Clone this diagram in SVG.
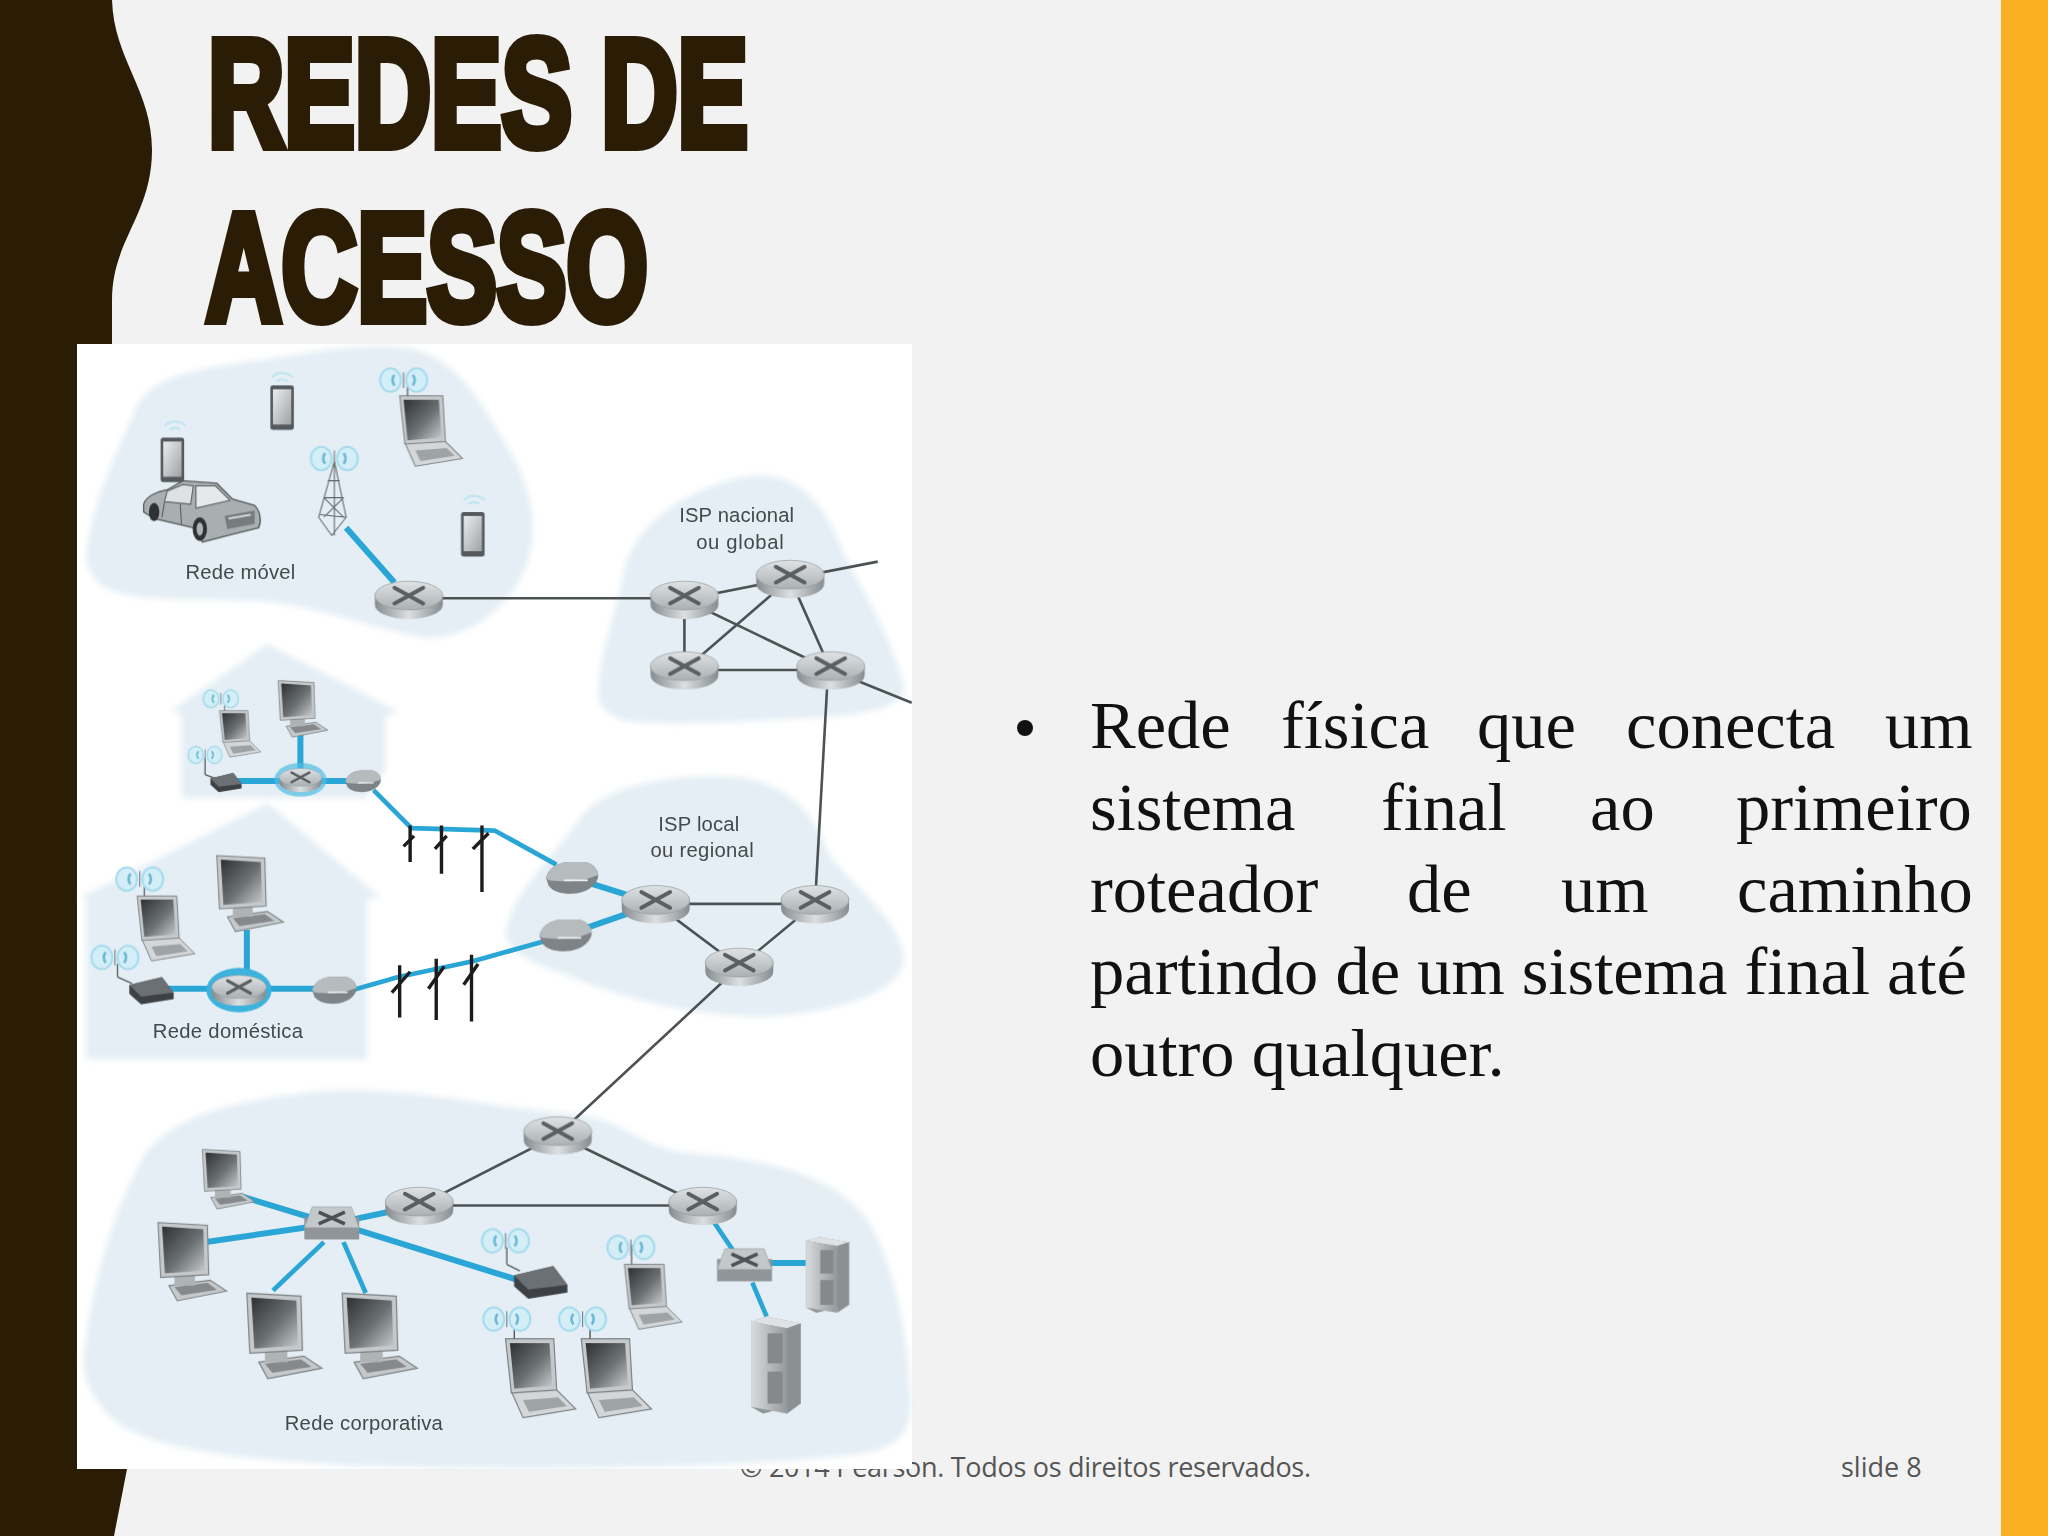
<svg xmlns="http://www.w3.org/2000/svg" xmlns:xlink="http://www.w3.org/1999/xlink" width="2048" height="1536" viewBox="0 0 2048 1536">
<style>
.title{font-family:"Liberation Sans",Arial,sans-serif;font-weight:700;font-size:153px;fill:#2a1c05;stroke:#2a1c05;stroke-width:10px;stroke-linejoin:miter}
.body{font-family:"Liberation Serif","Times New Roman",serif;font-size:68.5px;fill:#111}
.foot{font-family:"Open Sans","Noto Sans",sans-serif;font-size:27px;fill:#555}
.lab{font-family:"Liberation Sans",Arial,sans-serif;font-size:15.5px;fill:#44494c}
.cloud{fill:#e4eef4;filter:url(#soft)}
.blue{stroke:#2ba6d6;stroke-width:4.6;fill:none;stroke-linejoin:round}
.blueT{stroke:#2ba6d6;stroke-width:3.6;fill:none;stroke-linejoin:round}
.grey{stroke:#4e5255;stroke-width:2;fill:none}
.pole{stroke:#1d1d1d;stroke-width:2.6;fill:none}
.ln{stroke:#5e6366;stroke-width:.8;fill:none}
</style>
<defs>
<filter id="soft" x="-10%" y="-10%" width="120%" height="120%"><feGaussianBlur stdDeviation="2.5"/></filter>
<filter id="fine" x="-5%" y="-5%" width="110%" height="110%"><feGaussianBlur stdDeviation="0.55"/></filter>
<filter id="txt" x="-5%" y="-5%" width="110%" height="110%"><feGaussianBlur stdDeviation="0.3"/></filter>
<linearGradient id="gTop" x1="0" y1="0" x2="0" y2="1"><stop offset="0" stop-color="#e0e3e5"/><stop offset="1" stop-color="#aab0b3"/></linearGradient>
<linearGradient id="gSide" x1="0" y1="0" x2="1" y2="0"><stop offset="0" stop-color="#868c90"/><stop offset=".5" stop-color="#dde0e2"/><stop offset="1" stop-color="#868c90"/></linearGradient>
<linearGradient id="gScreen" x1="0" y1="0" x2="1" y2="1"><stop offset="0" stop-color="#2e3133"/><stop offset=".55" stop-color="#6d7275"/><stop offset="1" stop-color="#c9cdcf"/></linearGradient>
<linearGradient id="gSrv" x1="0" y1="0" x2="1" y2="0"><stop offset="0" stop-color="#d9dcde"/><stop offset="1" stop-color="#94999c"/></linearGradient>
<linearGradient id="gPh" x1="0" y1="0" x2="1" y2="1"><stop offset="0" stop-color="#eceeef"/><stop offset="1" stop-color="#9ea3a6"/></linearGradient>
<g id="router">
<path d="M-26-3V4A26 11 0 0 0 26 4V-3Z" fill="url(#gSide)"/>
<ellipse cx="0" cy="-3" rx="26" ry="11" fill="url(#gTop)" stroke="#9aa0a3" stroke-width=".6"/>
<path d="M-11-9L11 3M11-9L-11 3" stroke="#5a5f62" stroke-width="3" stroke-linecap="round"/>
</g>
<g id="switch">
<path d="M-21-5H21V12H-21Z" fill="#8f9598"/>
<path d="M-15-13H15L21 3H-21Z" fill="#c3c8ca" stroke="#9aa0a3" stroke-width=".5"/>
<path d="M-10-9L10 0M10-9L-10 0" stroke="#4c5154" stroke-width="2.6"/>
</g>
<g id="wifi">
<ellipse cx="-10" cy="0" rx="8" ry="9" fill="#d3eef7" stroke="#a6dcee" stroke-width="1.6"/>
<ellipse cx="10" cy="0" rx="8" ry="9" fill="#d3eef7" stroke="#a6dcee" stroke-width="1.6"/>
<path d="M-7-4A6 6 0 0 0-7 4M7-4A6 6 0 0 1 7 4" fill="none" stroke="#6db9d3" stroke-width="2"/>
<path d="M0-6V6" stroke="#7d8386" stroke-width=".9"/>
</g>
<g id="laptop">
<path d="M4 36L34 34L48 48L12 54Z" fill="#d4d7d9" stroke="#7c8285" stroke-width=".8"/>
<path d="M12 42L36 40L42 46L16 50Z" fill="#9ea3a6"/>
<path d="M0 0H33L35 35L4 37Z" fill="#c5c9cb" stroke="#7c8285" stroke-width=".8"/>
<path d="M3 3H30L32 32L6 34Z" fill="url(#gScreen)"/>
<path d="M6 0V-16" stroke="#55595c" stroke-width="1"/>
</g>
<g id="monitor">
<path d="M8 46L38 42L50 50L14 57Z" fill="#c5c9cb" stroke="#7c8285" stroke-width=".8"/>
<path d="M12 47L36 44L43 49L17 53Z" fill="#85898c"/>
<path d="M12 38H27V46H12Z" fill="#aeb3b5"/>
<path d="M0 0L36 2L37 38L2 40Z" fill="#c5c9cb" stroke="#7c8285" stroke-width=".8"/>
<path d="M3 3L33 5L34 35L5 37Z" fill="url(#gScreen)"/>
</g>
<g id="phone">
<rect x="-9" y="-17" width="18" height="34" rx="2" fill="#55595c"/>
<rect x="-7" y="-14" width="14" height="27" fill="url(#gPh)"/>
</g>
<g id="phoneWave" fill="none" stroke="#bfe5f2" stroke-width="1.6">
<path d="M-8-3A11 11 0 0 1 8-3M-4 0A6 6 0 0 1 4 0"/>
</g>
<g id="server">
<path d="M0 3L10 0L33 4V52L8 58L0 54Z" fill="#8f9598"/>
<path d="M0 3L10 0L33 4L24 7Z" fill="#dfe2e4"/>
<path d="M24 7L33 4V52L24 58Z" fill="#8b9093"/>
<path d="M0 3L24 7V58L0 54Z" fill="url(#gSrv)"/>
<path d="M11 10H21V28H11ZM11 33H21V52H11Z" fill="#85898c"/>
</g>
<g id="box">
<path d="M-17-3L8-9L17 3V8L-8 12L-17 4Z" fill="#3d4144"/>
<path d="M-17-3L8-9L17 3L-8 6Z" fill="#6b7073"/>
</g>
<g id="modem">
<path d="M-20 0C-18-8-10-12-2-12H10C16-11 20-6 20-2C20 4 14 10 4 12C-4 13-14 12-18 6Z" fill="#7d8386"/>
<path d="M-20 0C-18-8-10-12-2-12H10C16-11 20-6 20-2C10 2 0 4-18 2Z" fill="#b6bbbe"/>
<path d="M-6 2H12" stroke="#eef0f1" stroke-width="1.4"/>
</g>
</defs>
<rect id="bg" width="2048" height="1536" fill="#f2f2f2"/>
<rect id="bar" x="2001" width="47" height="1536" fill="#f9b122"/>
<path id="band" d="M0 0H112C114 60 152 90 152 150C152 215 112 240 112 300V1469H127L114 1536H0Z" fill="#2a1c05"/>
<text class="title" x="208" y="146" textLength="540" lengthAdjust="spacingAndGlyphs">REDES DE</text>
<text class="title" x="206" y="320" textLength="442" lengthAdjust="spacingAndGlyphs">ACESSO</text>
<text class="foot" x="740" y="1477" textLength="571" lengthAdjust="spacing">© 2014 Pearson. Todos os direitos reservados.</text>
<text class="foot" x="1841" y="1477">slide 8</text>
<rect id="picture" x="77" y="344" width="835" height="1125" fill="#fff"/>
<g id="bodytext" class="body">
<circle cx="1025" cy="728" r="8" fill="#111"/>
<text y="748"><tspan x="1090">Rede</tspan><tspan x="1281">física</tspan><tspan x="1477">que</tspan><tspan x="1626">conecta</tspan><tspan x="1885">um</tspan></text>
<text y="830"><tspan x="1090">sistema</tspan><tspan x="1381">final</tspan><tspan x="1590">ao</tspan><tspan x="1736">primeiro</tspan></text>
<text y="912"><tspan x="1090">roteador</tspan><tspan x="1407">de</tspan><tspan x="1561">um</tspan><tspan x="1737">caminho</tspan></text>
<text x="1090" y="994">partindo de um sistema final até</text>
<text x="1090" y="1076">outro qualquer.</text>
</g>
<g transform="scale(1.30612)">
<g id="clouds">
<path class="cloud" d="M66 425C70 385 90 345 105 310C120 285 160 282 190 277C230 272 270 262 310 266C350 272 370 310 390 345C408 375 414 410 400 440C385 470 355 490 325 488C285 482 240 462 195 460C150 458 100 462 78 448C68 440 66 432 66 425Z"/>
<path class="cloud" d="M458 530C460 495 472 470 478 435C490 395 530 375 565 366C600 358 625 375 640 410C655 445 680 480 692 525C694 545 650 548 615 550C570 552 520 556 480 552C465 548 458 540 458 530Z"/>
<path class="cloud" d="M130 545L205 493L305 545L295 548V590L280 611H139V546Z"/>
<path class="cloud" d="M60 688L205 615L292 688H281V811H66V688Z"/>
<path class="cloud" d="M388 710C395 680 425 655 445 625C465 600 520 592 565 595C605 600 625 625 635 655C655 680 690 705 692 735C690 760 640 775 590 778C530 780 470 762 430 745C400 735 385 725 388 710Z"/>
<path class="cloud" d="M64 1040C70 985 85 930 110 885C135 850 190 842 240 836C310 830 370 848 440 853C480 858 490 880 530 883C590 888 640 900 665 935C685 970 695 1020 697 1070C699 1105 680 1112 640 1115C560 1124 400 1126 270 1122C190 1118 110 1110 85 1085C70 1070 63 1055 64 1040Z"/>
</g>
<g id="connectors" filter="url(#txt)">
<path class="blue" d="M265 404L302 446"/>
<path class="grey" d="M313 458H524"/>
<path class="grey" d="M524 459L605 443M524 459L636 513M605 443L524 513M605 443L636 513M524 459V513M524 513H636M605 443L672 430M636 513L698 538"/>
<path class="grey" d="M634 513L624 692"/>
<path class="grey" d="M502 692H624M502 692L566 740M624 692L566 740M566 740L427 869"/>
<path class="grey" d="M427 869L321 923M427 869L538 923M321 923H538"/>
<path class="blue" d="M172 598H278M230 597V560"/>
<path class="blueT" d="M286 605L315 634L379 636L426 662"/>
<path class="blue" d="M438 672L502 692"/>
<path class="blue" d="M118 757H256M189 712V758"/>
<path class="blueT" d="M256 762L305 748L362 736L433 716"/>
<path class="blue" d="M433 716L502 692"/>
<path class="blue" d="M254 937L321 923M254 937L185 916M254 937L150 952"/>
<path class="blueT" d="M248 951L209 988M263 951L280 990"/>
<path class="blue" d="M262 938L403 982"/>
<path class="blueT" d="M538 923L563 960M576 982L587 1008"/>
<path class="blue" d="M570 967H617"/>
<path class="pole" d="M314 632V660M338 632V669M369 632V683M306 739V779M334 734V781M361 731V782"/>
<path class="pole" stroke-width="1.4" d="M309 648L317 640M333 650L342 640M362 650L374 638M300 760L314 744M328 757L340 740M355 754L366 738"/>
</g>
<g filter="url(#fine)">
<g id="router-movel"><use href="#router" x="313" y="459"/></g>
<g id="router-n1"><use href="#router" x="524" y="459"/></g>
<g id="router-n2"><use href="#router" x="605" y="443"/></g>
<g id="router-n3"><use href="#router" x="524" y="513"/></g>
<g id="router-n4"><use href="#router" x="636" y="513"/></g>
<g id="router-l1"><use href="#router" x="502" y="692"/></g>
<g id="router-l2"><use href="#router" x="624" y="692"/></g>
<g id="router-l3"><use href="#router" x="566" y="740"/></g>
<g id="router-c1"><use href="#router" x="427" y="869"/></g>
<g id="router-c2"><use href="#router" x="321" y="923"/></g>
<g id="router-c3"><use href="#router" x="538" y="923"/></g>
<g id="router-h1"><ellipse cx="230" cy="597" rx="20" ry="13" fill="#4ebde2" opacity=".7"/><use href="#router" transform="translate(230 597) scale(.62)"/></g>
<g id="router-h2"><ellipse cx="183" cy="758" rx="25" ry="17" fill="#3cb2dc"/><use href="#router" transform="translate(183 758) scale(.8)"/></g>
<g id="switch-c1"><use href="#switch" x="254" y="937"/></g>
<g id="switch-c2"><use href="#switch" x="570" y="969"/></g>
<g id="modem-h1"><use href="#modem" transform="translate(278 598) scale(.68)"/></g>
<g id="modem-h2"><use href="#modem" transform="translate(256 758) scale(.85)"/></g>
<g id="modem-l1"><use href="#modem" x="438" y="672"/></g>
<g id="modem-l2"><use href="#modem" x="433" y="716"/></g>
<g id="ap-h1"><path d="M157 593V580" stroke="#55595c"/><path d="M157 593L165 596" stroke="#55595c"/><use href="#box" transform="translate(173 598) scale(.7)"/><use href="#wifi" transform="translate(157 578) scale(.72)"/></g>
<g id="ap-h2"><path d="M90 748V738" stroke="#55595c"/><path d="M90 748L101 753" stroke="#55595c"/><use href="#box" transform="translate(116 757)"/><use href="#wifi" x="88" y="733"/></g>
<g id="ap-c"><path d="M388 968L388 955" stroke="#55595c"/><path d="M388 968L398 973" stroke="#55595c"/><use href="#box" transform="translate(414 980) scale(1.2)"/><use href="#wifi" x="387" y="950"/></g>
<g id="phone1"><use href="#phone" x="216" y="312"/><use href="#phoneWave" x="216" y="292"/></g>
<g id="phone2"><use href="#phone" x="132" y="352"/><use href="#phoneWave" x="134" y="329"/></g>
<g id="phone3"><use href="#phone" x="362" y="409"/><use href="#phoneWave" x="363" y="386"/></g>
<g id="laptop-m"><use href="#laptop" transform="translate(306 303)"/><use href="#wifi" x="309" y="291"/></g>
<g id="laptop-h1"><use href="#laptop" transform="translate(168 544) scale(.66)"/><use href="#wifi" transform="translate(169 535) scale(.75)"/></g>
<g id="laptop-h2"><use href="#laptop" transform="translate(105 686) scale(.92)"/><use href="#wifi" x="107" y="673"/></g>
<g id="laptop-c1"><use href="#laptop" transform="translate(478 968) scale(.92)"/><use href="#wifi" x="483" y="955"/></g>
<g id="laptop-c2"><use href="#laptop" transform="translate(387 1025) scale(1.12)"/><use href="#wifi" x="388" y="1010"/></g>
<g id="laptop-c3"><use href="#laptop" transform="translate(445 1025) scale(1.12)"/><use href="#wifi" x="446" y="1010"/></g>
<g id="pc-h1"><use href="#monitor" transform="translate(213 521) scale(.76)"/></g>
<g id="pc-h2"><use href="#monitor" transform="translate(166 655) scale(1.02)"/></g>
<g id="pc-c1"><use href="#monitor" transform="translate(155 880) scale(.8)"/></g>
<g id="pc-c2"><use href="#monitor" transform="translate(121 936) scale(1.05)"/></g>
<g id="pc-c3"><use href="#monitor" transform="translate(189 990) scale(1.15)"/></g>
<g id="pc-c4"><use href="#monitor" transform="translate(262 990) scale(1.15)"/></g>
<g id="server1"><use href="#server" x="617" y="947"/></g>
<g id="server2"><use href="#server" transform="translate(575 1008) scale(1.15 1.28)"/></g>
<g id="tower"><path class="ln" d="M256 353L244 396L254 410L265 396ZM256 353V410M248 381H263M245 394L265 396M251 368H260M248 381L263 396M263 381L248 396"/><use href="#wifi" x="256" y="351"/></g>
<g id="car">
<path d="M110 386C112 379 122 376 128 375L140 368L166 370L178 382L195 387C200 392 200 400 198 404L178 409L155 415L148 404L118 397L110 392Z" fill="#a9aeb1" stroke="#565b5e" stroke-width="1"/>
<path d="M128 376L140 371L148 372L146 386L126 384Z" fill="#dfe2e4" stroke="#565b5e" stroke-width=".8"/>
<path d="M150 372L165 372L176 383L150 389Z" fill="#e6e9ea" stroke="#565b5e" stroke-width=".8"/>
<path d="M138 386L139 402M126 384L124 396" stroke="#565b5e" stroke-width=".8"/>
<ellipse cx="153" cy="405" rx="5.5" ry="9" fill="#2f3336"/><ellipse cx="153" cy="405" rx="2.5" ry="5" fill="#aeb3b5"/><ellipse cx="118" cy="392" rx="4" ry="7" fill="#2f3336"/>
<path d="M172 395L195 391V401L174 405Z" fill="#777c7f"/>
<path d="M175 397L192 394" stroke="#dfe2e4" stroke-width="1.4"/>
</g>
</g>
<g id="labels" class="lab" filter="url(#txt)">
<text x="142" y="443" textLength="84">Rede móvel</text>
<text x="520" y="400" textLength="88">ISP nacional</text>
<text x="533" y="420" textLength="67">ou global</text>
<text x="504" y="636" textLength="62">ISP local</text>
<text x="498" y="656" textLength="79">ou regional</text>
<text x="117" y="795" textLength="115">Rede doméstica</text>
<text x="218" y="1095" textLength="121">Rede corporativa</text>
</g>
</g>
</svg>
